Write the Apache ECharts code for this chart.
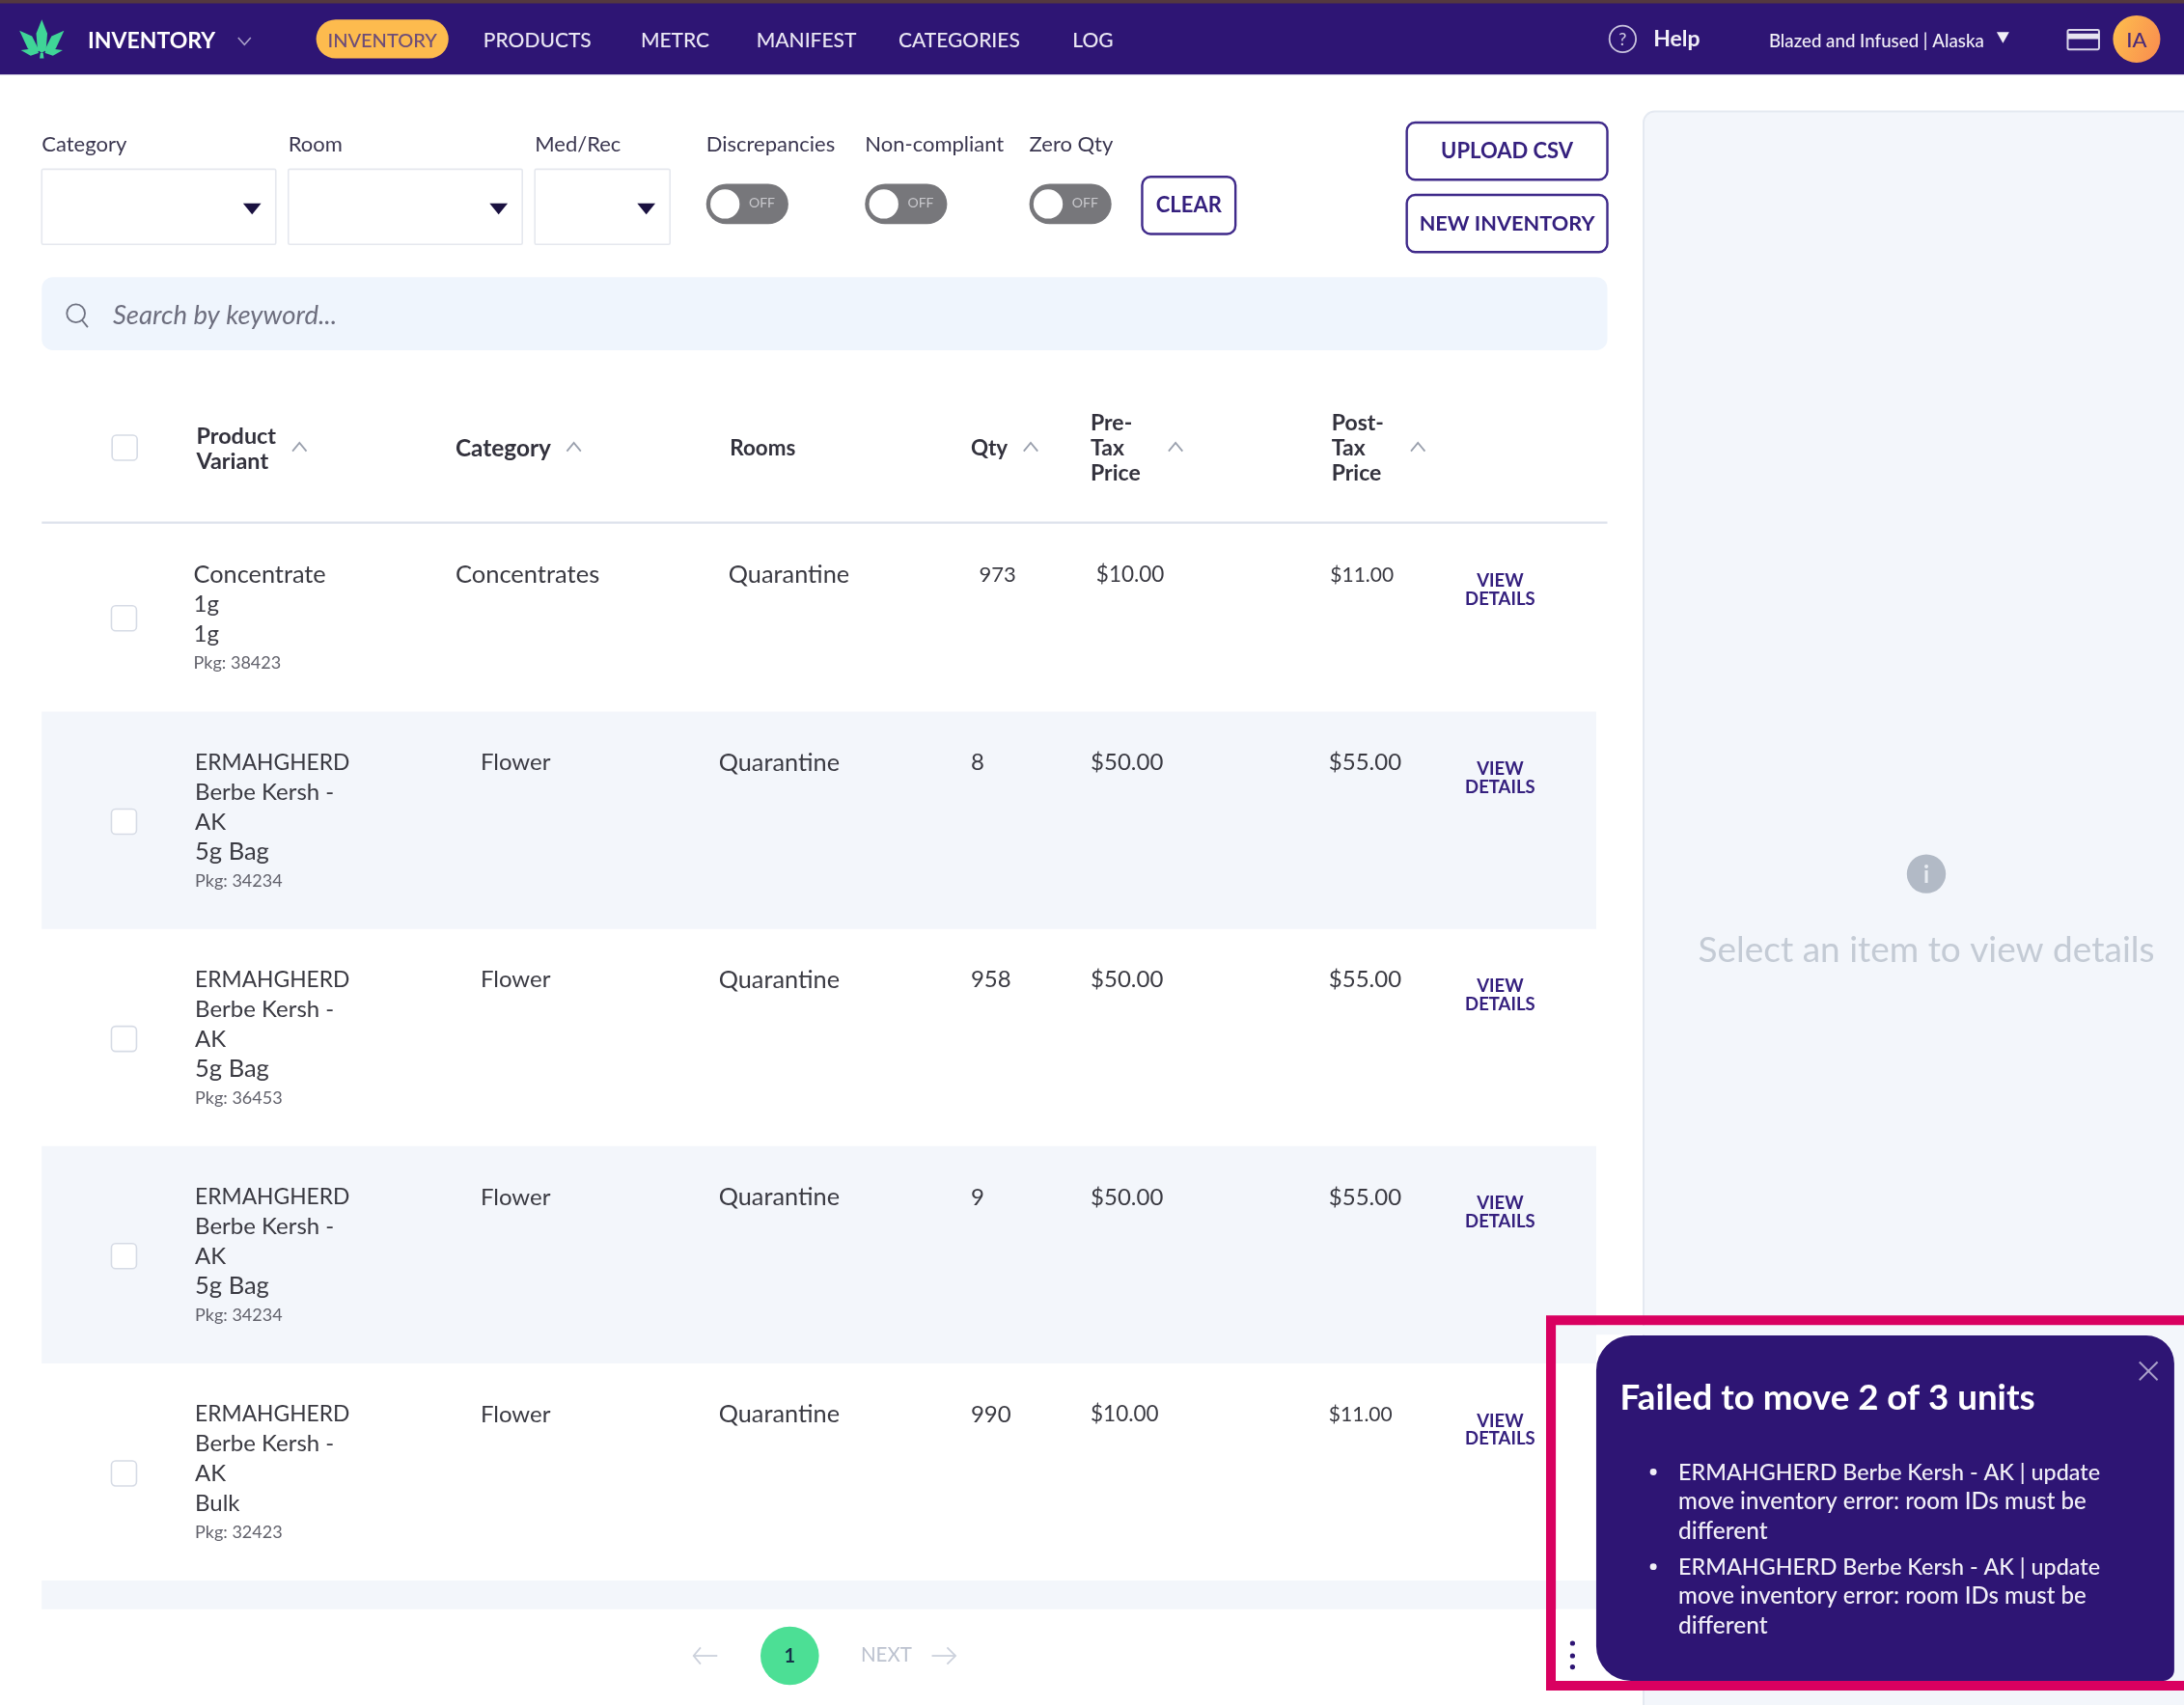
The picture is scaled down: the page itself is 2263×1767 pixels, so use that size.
<!DOCTYPE html>
<html>
<head>
<meta charset="utf-8">
<title>Inventory</title>
<style>html,body{margin:0;padding:0;background:#fff}#main{width:2263px;height:1767px}</style>
<script src="https://cdn.jsdelivr.net/npm/echarts@6/dist/echarts.min.js"></script>
</head>
<body>
<div id="main"></div>
<script>
// table content
const navItems = ["PRODUCTS", "METRC", "MANIFEST", "CATEGORIES", "LOG"];
const filterLabels = ["Category", "Room", "Med/Rec", "Discrepancies", "Non-compliant", "Zero Qty"];
const variants = [
  ["Concentrate", "1g", "1g"],
  ["ERMAHGHERD", "Berbe Kersh -", "AK", "5g Bag"],
  ["ERMAHGHERD", "Berbe Kersh -", "AK", "5g Bag"],
  ["ERMAHGHERD", "Berbe Kersh -", "AK", "5g Bag"],
  ["ERMAHGHERD", "Berbe Kersh -", "AK", "Bulk"],
];
const pkgs = ["Pkg: 38423", "Pkg: 34234", "Pkg: 36453", "Pkg: 34234", "Pkg: 32423"];
const categories = ["Concentrates", "Flower", "Flower", "Flower", "Flower"];
const rooms = ["Quarantine", "Quarantine", "Quarantine", "Quarantine", "Quarantine"];
const qtys = ["973", "8", "958", "9", "990"];
const preTax = ["$10.00", "$50.00", "$50.00", "$50.00", "$10.00"];
const postTax = ["$11.00", "$55.00", "$55.00", "$55.00", "$11.00"];
const toastLines = [
  "ERMAHGHERD Berbe Kersh - AK | update", "move inventory error: room IDs must be", "different",
  "ERMAHGHERD Berbe Kersh - AK | update", "move inventory error: room IDs must be", "different",
];

// layout is measured on a 1568 wide copy, k scales it up
const k = 2263 / 1568;
const FONT = "Lato, sans-serif";
const PURPLE = "#2e1574";
const els = [];

// Lato runs a bit wider or narrower than the original font on some words
const bodySize = { ERMAHGHERD: 22.8, Concentrate: 25.3, Concentrates: 25.5, Quarantine: 25.3, "5g Bag": 25.5,
  "973": 22, "$10.00": 22.5, "$11.00": 21 };

function rect(x, y, w, h, fill, r, stroke, lw) {
  els.push({ type: "rect", silent: true, shape: { x: x * k, y: y * k, width: w * k, height: h * k, r: (r || 0) * k },
    style: { fill: fill || "transparent", stroke: stroke || null, lineWidth: lw || 0 } });
}
function circle(cx, cy, r, fill, stroke, lw) {
  els.push({ type: "circle", silent: true, shape: { cx: cx * k, cy: cy * k, r: r * k },
    style: { fill: fill || "transparent", stroke: stroke || null, lineWidth: lw || 0 } });
}
function text(x, y, str, size, fill, weight, align, italic) {
  els.push({ type: "text", silent: true, style: { x: x * k, y: (y + 0.8) * k, text: str, fill: fill,
    font: (italic ? "italic " : "") + (weight || 400) + " " + size + "px " + FONT,
    textAlign: align || "left", textVerticalAlign: "middle" } });
}
function body(x, y, str) {
  text(x, y, str, bodySize[str] || 24, "#3a3a42");
}
function poly(pts, fill) {
  els.push({ type: "polygon", silent: true, shape: { points: pts.map(p => [p[0] * k, p[1] * k]) }, style: { fill: fill } });
}
function line(pts, stroke, lw) {
  els.push({ type: "polyline", silent: true, shape: { points: pts.map(p => [p[0] * k, p[1] * k]) },
    style: { stroke: stroke, lineWidth: lw, fill: "none" } });
}
function caret(cx, cy, color, half) {
  const h = half || 6.5;
  poly([[cx - h, cy - 4], [cx + h, cy - 4], [cx, cy + 4]], color);
}
function chevronUp(cx, cy) {
  line([[cx - 5, cy + 3], [cx, cy - 3], [cx + 5, cy + 3]], "#9aa0ad", 1.8);
}
function checkbox(cx, cy) {
  rect(cx - 9, cy - 9, 18, 18, "#fff", 3, "#d6dbe5", 1.6);
}
function button(x, y, w, h, label, size) {
  rect(x, y, w, h, "#fff", 6, "#3f2a8a", 2.4);
  text(x + w / 2, y + h / 2 - 0.8, label, size, "#35207e", 700, "center");
}

// top bar
rect(0, 0, 1568, 53.5, PURPLE);
rect(0, 0, 1568, 2.5, "#54383f");
const leafGreen = "#3fd597";
poly([[30, 14], [34, 24], [33, 36], [30, 38], [27, 36], [26, 24]], leafGreen);
poly([[14, 22], [23, 26], [28, 36], [27, 38], [20, 35]], leafGreen);
poly([[46, 22], [37, 26], [32, 36], [33, 38], [40, 35]], leafGreen);
poly([[15, 36], [23, 35], [28, 38], [22, 40]], leafGreen);
poly([[45, 36], [37, 35], [32, 38], [38, 40]], leafGreen);
poly([[29, 38], [31, 38], [31.5, 42], [28.5, 42]], leafGreen);
text(63, 28.5, "INVENTORY", 23, "#fff", 700);
line([[171, 27], [175.5, 32], [180, 27]], "#a9a0c9", 1.6);
rect(227, 14, 95, 28, "#fdbb4e", 14);
text(274.5, 28.5, "INVENTORY", 20, "#6d4d78", 500, "center");
const navX = [347, 460, 543, 645, 770];
navItems.forEach((n, i) => text(navX[i], 28.5, n, 21, "#e9e6f3", 500));
circle(1165, 28, 9.5, "transparent", "#c9c3de", 1.8);
text(1165, 27.5, "?", 18, "#c9c3de", 500, "center");
text(1187, 27, "Help", 23, "#f1eff7", 700);
text(1270, 29, "Blazed and Infused | Alaska", 18.7, "#f1eff7", 500);
caret(1438, 27, "#f1eff7", 4.5);
rect(1484.5, 21.5, 22.5, 14, "transparent", 1, "#d9d5e8", 2);
rect(1484.5, 24, 22.5, 4, "#e6e3f0");
els.push({ type: "circle", silent: true, shape: { cx: 1534 * k, cy: 28 * k, r: 17 * k },
  style: { fill: new echarts.graphic.LinearGradient(0, 0.3, 1, 0.7, [{ offset: 0, color: "#fdbb4e" }, { offset: 1, color: "#f98f4f" }]) } });
text(1534, 28.5, "IA", 22, "#4a2a78", 500, "center");

// filters
const labelX = [30, 207, 384, 507, 621, 739];
filterLabels.forEach((l, i) => text(labelX[i], 103, l, 22, "#3b3750", 400));
[[30, 168, 181], [207, 168, 358], [384, 97, 464]].forEach(b => {
  rect(b[0], 121.5, b[1], 54, "#fff", 1, "#e5e8ee", 1.6);
  caret(b[2], 150, "#1a1140");
});
[507, 621, 739].forEach(x => {
  rect(x, 132, 59, 29, "#77777b", 14.5);
  circle(x + 13.5, 146.5, 10.5, "#fff");
  text(x + 40, 145, "OFF", 14, "#c8c8cc", 400, "center");
});
button(820, 127, 67, 41, "CLEAR", 22);
button(1010, 88, 144, 41, "UPLOAD CSV", 22);
button(1010, 140, 144, 41, "NEW INVENTORY", 21.7);

// details panel
rect(1180, 80, 400, 1160, "#f3f6fb", 8, "#e4e9f1", 2);
circle(1383, 627.5, 14, "#b2bac6");
text(1383, 627.5, "i", 24, "#e8ecf2", 700, "center");
text(1383, 682, "Select an item to view details", 37, "#c4cbd5", 400, "center");

// search
rect(30, 199, 1124, 52.5, "#eff5fd", 8);
circle(54.5, 225, 6.5, "transparent", "#6e7180", 1.8);
line([[59, 230], [63, 235]], "#6e7180", 1.8);
text(81, 226, "Search by keyword...", 27.5, "#6d6e7e", 400, "left", true);

// table head
const HEAD = "#33323d";
checkbox(89.5, 321.5);
text(141, 313, "Product", 23.4, HEAD, 700);
text(141, 331, "Variant", 23.4, HEAD, 700);
chevronUp(215, 321);
text(327, 321.5, "Category", 24.4, HEAD, 700);
chevronUp(412, 321);
text(524, 321.5, "Rooms", 22.4, HEAD, 700);
text(697, 321.5, "Qty", 22.4, HEAD, 700);
chevronUp(740, 321);
["Pre-", "Tax", "Price"].forEach((t, i) => text(783, 303 + i * 18, t, 23, HEAD, 700));
chevronUp(844, 321);
["Post-", "Tax", "Price"].forEach((t, i) => text(956, 303 + i * 18, t, 23, HEAD, 700));
chevronUp(1018, 321);
rect(30, 374.5, 1124, 1.5, "#dde2ec");

// table rows, first row has its own column offsets
const rowTop = [412, 547, 703, 859, 1015];
const boxY = [444, 590, 746, 902, 1058];
const colX = {
  variant: [139, 140, 140, 140, 140], cat: [327, 345, 345, 345, 345], room: [523, 516, 516, 516, 516],
  qty: [703, 697, 697, 697, 697], pre: [787, 783, 783, 783, 783], post: [955, 954, 954, 954, 954],
};
rect(30, 511, 1116, 156, "#f3f6fb");
rect(30, 823, 1116, 156, "#f3f6fb");
rect(30, 1135, 1116, 20.5, "#f3f6fb");
variants.forEach((v, i) => {
  const y = rowTop[i];
  checkbox(89, boxY[i]);
  v.forEach((t, j) => body(colX.variant[i], y + j * 21.2, t));
  text(colX.variant[i], y + v.length * 21.2, pkgs[i], 18, "#62626c");
  body(colX.cat[i], y, categories[i]);
  body(colX.room[i], y, rooms[i]);
  body(colX.qty[i], y, qtys[i]);
  body(colX.pre[i], y, preTax[i]);
  body(colX.post[i], y, postTax[i]);
  text(1077, y + 4.5, "VIEW", 18.5, "#35207e", 700, "center");
  text(1077, y + 17.5, "DETAILS", 18.5, "#35207e", 700, "center");
});

// pagination
line([[503, 1183], [498, 1189], [503, 1195]], "#ccd1dc", 1.8);
line([[498, 1189], [515, 1189]], "#ccd1dc", 1.8);
circle(567, 1189, 21, "#4cdf95");
text(567, 1188.5, "1", 20, "#16324a", 700, "center");
text(618, 1188, "NEXT", 20.5, "#bcc2cf", 400);
line([[680, 1183], [686, 1189], [680, 1195]], "#ccd1dc", 1.8);
line([[669, 1189], [686, 1189]], "#ccd1dc", 1.8);

// highlighted toast
rect(1113.5, 948, 460, 262.5, "transparent", 0, "#d90060", 7 * k);
rect(1146, 952, 415, 6.5, "#f3f6fb");
rect(1117, 1155.5, 29, 51.5, "#fff");
[1180, 1189, 1197].forEach(y => circle(1129, y, 1.8, PURPLE));
els.push({ type: "rect", silent: true, shape: { x: 1146 * k, y: 959 * k, width: 415 * k, height: 248 * k, r: [25 * k, 20 * k, 8 * k, 25 * k] }, style: { fill: PURPLE } });
line([[1536, 978], [1549, 991]], "#a9a0c9", 2);
line([[1549, 978], [1536, 991]], "#a9a0c9", 2);
text(1163, 1003.5, "Failed to move 2 of 3 units", 36.7, "#fff", 700);
const toastY = [1057, 1078, 1099, 1125, 1146, 1167];
const toastSize = [23.3, 24, 24.5, 23.3, 24, 24.5];
toastLines.forEach((t, i) => text(1205, toastY[i] - 0.3, t, toastSize[i], "#f1eff7", 500));
circle(1187, 1057, 2.4, "#f1eff7");
circle(1187, 1125, 2.4, "#f1eff7");

const chart = echarts.init(document.getElementById("main"));
chart.setOption({ animation: false, backgroundColor: "#fff", graphic: { elements: els } });
</script>
</body>
</html>
